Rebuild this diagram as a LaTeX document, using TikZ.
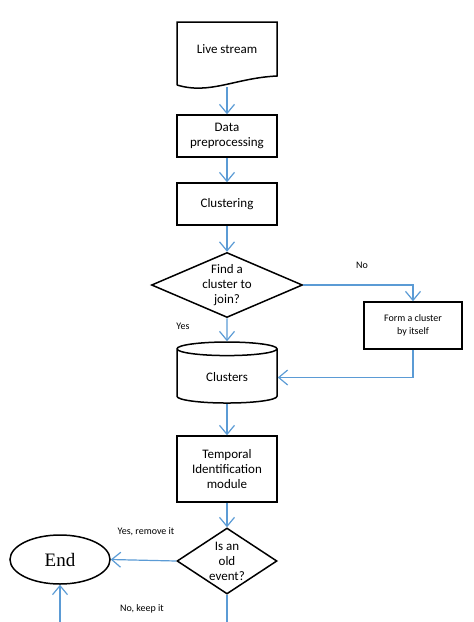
\documentclass[tikz,border=0pt]{standalone}
\usepackage{fontspec}
\setsansfont{Carlito}
\newfontfamily\endfont{Liberation Serif}
\usepackage{tikz}
\usetikzlibrary{shapes,arrows.meta,positioning}
\usepackage{xcolor}
\definecolor{flowblue}{RGB}{91,155,213}

\begin{document}
\begin{tikzpicture}[x=1pt, y=-1pt,
  box/.style={draw=black, line width=1.5pt, fill=white, minimum width=100pt, minimum height=42pt, align=center, font=\sffamily\fontsize{13}{15}\selectfont},
  decision/.style={draw=black, line width=1.5pt, diamond, inner sep=0pt, align=center, font=\sffamily\fontsize{13}{15}\selectfont},
  flow/.style={draw=flowblue, line width=1.2pt, -{Straight Barb[length=9pt,width=15pt]}},
  lbl/.style={font=\sffamily\fontsize{10}{11}\selectfont}]
  \useasboundingbox (0,0) rectangle (474,622);

  % Live stream (document shape)
  \draw[line width=1.5pt] (177,85) -- (177,22) -- (277,22) -- (277,76) .. controls (235,78) and (210,95) .. (177,85);
  \node[font=\sffamily\fontsize{13}{15}\selectfont] (live) at (227,49) {Live stream};
  \coordinate (liveb) at (227,87);

  % Steps
  \node[box] (prep) at (227,136) {Data\\preprocessing};
  \node[box] (clust) at (227,204) {Clustering};
  \node[decision, aspect=2.3, minimum width=151pt, minimum height=65pt] (find) at (227,285) {Find a\\cluster to\\join?};
  \node[box, minimum width=98pt, minimum height=47pt, font=\sffamily\fontsize{10}{13}\selectfont] (form) at (413,325.5) {Form a cluster\\by itself};
  \node[draw=black, line width=1.5pt, cylinder, shape border rotate=90, aspect=0.28, minimum width=100pt, minimum height=61pt, font=\sffamily\fontsize{13}{15}\selectfont] (clusters) at (227,377.5) {Clusters};
  \node[box, minimum height=66pt] (temp) at (227,469) {Temporal\\Identification\\module};
  \node[decision, aspect=1.5, minimum width=100pt, minimum height=66pt] (old) at (227,561) {Is an\\old\\event?};
  \node[draw=black, line width=1.5pt, ellipse, minimum width=100pt, minimum height=49pt, font=\endfont\fontsize{19}{22}\selectfont] (end) at (60,559.5) {End};
  \coordinate (outb) at (227,622);
  \coordinate (inb) at (60,622);

  % Connectors
  \draw[flow] (liveb) -- (prep);
  \draw[flow] (prep) -- (clust);
  \draw[flow] (clust) -- (find);
  \draw[flow] (find.east) -| (form.north);
  \draw[flow] (find) -- (clusters);
  \draw[flow] (form.south) |- (clusters.east);
  \draw[flow] (clusters) -- (temp);
  \draw[flow] (temp) -- (old);
  \draw[flow] (old.west) -- (end.east);
  \draw[draw=flowblue, line width=1.2pt] (old.south) -- (outb);
  \draw[flow] (inb) -- (end.south);

  % Labels
  \node[lbl] (no) at (362,265) {No};
  \node[lbl] (yes) at (183,326) {Yes};
  \node[lbl] (rem) at (146,532) {Yes, remove it};
  \node[lbl] (keep) at (142,609) {No, keep it};
\end{tikzpicture}
\end{document}
